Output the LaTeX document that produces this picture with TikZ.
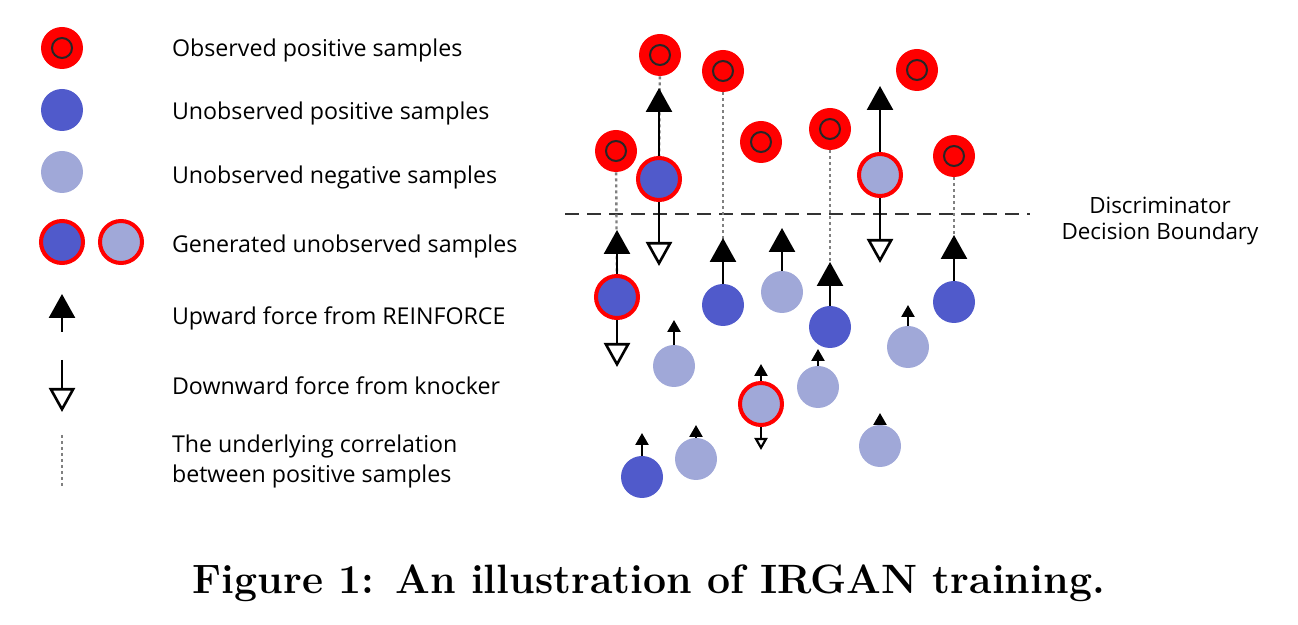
\documentclass[tikz,border=0pt]{standalone}
\usepackage{fontspec}
\newfontfamily\labelfont{Open Sans}
\usepackage{tikz}
\usetikzlibrary{arrows.meta,positioning}
\definecolor{obsred}{HTML}{FF0000}
\definecolor{posblue}{HTML}{505ACB}
\definecolor{negblue}{HTML}{A0A8D8}
\begin{document}
\begin{tikzpicture}[
  x=0.5pt, y=-0.5pt,
  obs/.style={
    circle,
    fill=obsred,
    minimum size=21pt,
    inner sep=0pt,
    path picture={\draw[line width=1pt, black!85] (path picture bounding box.center) circle (5pt);}
  },
  upos/.style={circle, fill=posblue, minimum size=21pt, inner sep=0pt},
  uneg/.style={circle, fill=negblue, minimum size=21pt, inner sep=0pt},
  genpos/.style={circle, fill=posblue, draw=obsred, line width=2pt, minimum size=21pt, inner sep=0pt},
  genneg/.style={circle, fill=negblue, draw=obsred, line width=2pt, minimum size=21pt, inner sep=0pt},
  legend/.style={anchor=west, font=\labelfont\fontsize{11.6}{15}\selectfont},
  up/.style={-{Triangle[length=12pt,width=13pt]}, line width=1.3pt},
  down/.style={-{Triangle[open,length=12pt,width=13pt]}, line width=1.3pt},
  smallup/.style={-{Triangle[length=6pt,width=6.5pt]}, line width=1.2pt},
  smalldown/.style={-{Triangle[open,length=6pt,width=6.5pt]}, line width=1.1pt},
  corr/.style={gray, dash pattern=on 1.5pt off 1.5pt, line width=1.2pt}
]
\useasboundingbox (0,0) rectangle (1298,625);

% legend
\node[obs] (lobs) at (62,48) {};
\node[upos] (lpos) at (62,110) {};
\node[uneg] (lneg) at (62,172) {};
\node[genpos] (lgenpos) at (62,242) {};
\node[genneg] (lgenneg) at (121,242) {};
\coordinate (lupa) at (62,332);
\coordinate (lupb) at (62,294);
\coordinate (ldna) at (62,360);
\coordinate (ldnb) at (62,412);
\coordinate (lcora) at (62,435);
\coordinate (lcorb) at (62,488);
\draw[up] (lupa) -- (lupb);
\draw[down] (ldna) -- (ldnb);
\draw[corr] (lcora) -- (lcorb);
\node[legend] (tobs) at (165,50) {Observed positive samples};
\node[legend] (tpos) at (165,113) {Unobserved positive samples};
\node[legend] (tneg) at (165,177) {Unobserved negative samples};
\node[legend] (tgen) at (165,246) {Generated unobserved samples};
\node[legend] (tup) at (165,318) {Upward force from REINFORCE};
\node[legend] (tdn) at (165,386) {Downward force from knocker};
\node[legend, align=left] (tcor) at (165,461) {The underlying correlation\\between positive samples};

% decision boundary
\coordinate (bl) at (565,214);
\coordinate (br) at (1030,214);
\draw[dash pattern=on 7pt off 4pt, line width=1pt, black!80] (bl) -- (br);
\node[font=\labelfont\fontsize{11.2}{13}\selectfont, align=center] (tdb) at (1160,221) {Discriminator\\Decision Boundary};

% observed positives
\node[obs] (o1) at (616,151) {};
\node[obs] (o2) at (660,55) {};
\node[obs] (o3) at (723,71) {};
\node[obs] (o4) at (761,142) {};
\node[obs] (o5) at (830,129) {};
\node[obs] (o6) at (917,70) {};
\node[obs] (o7) at (954,156) {};

% generated samples
\node[genpos] (g1) at (659,179) {};
\node[genneg] (g2) at (880,175) {};
\node[genpos] (g3) at (617,297) {};
\node[genneg] (g4) at (761,404) {};

% unobserved positives
\node[upos] (p1) at (723,305) {};
\node[upos] (p2) at (830,327) {};
\node[upos] (p3) at (954,302) {};
\node[upos] (p4) at (642,477) {};

% unobserved negatives
\node[uneg] (n1) at (782,292) {};
\node[uneg] (n2) at (674,366) {};
\node[uneg] (n3) at (908,347) {};
\node[uneg] (n4) at (818,387) {};
\node[uneg] (n5) at (696,459) {};
\node[uneg] (n6) at (880,446) {};

% correlations
\draw[corr] (o1) -- (g3);
\draw[corr] (o2) -- (g1);
\draw[corr] (o3) -- (p1);
\draw[corr] (o5) -- (p2);
\draw[corr] (o7) -- (p3);

% forces
\coordinate (t1) at (659,88);
\coordinate (b1) at (659,266);
\coordinate (t2) at (880,86);
\coordinate (b2) at (880,263);
\coordinate (t3) at (617,230);
\coordinate (b3) at (617,367);
\coordinate (t4) at (761,364);
\coordinate (b4) at (761,450);
\draw[up] (g1) -- (t1);
\draw[down] (g1) -- (b1);
\draw[up] (g2) -- (t2);
\draw[down] (g2) -- (b2);
\draw[up] (g3) -- (t3);
\draw[down] (g3) -- (b3);
\draw[smallup] (g4) -- (t4);
\draw[smalldown] (g4) -- (b4);
\coordinate (tp1) at (723,238);
\coordinate (tp2) at (830,262);
\coordinate (tp3) at (954,235);
\coordinate (tp4) at (642,433);
\draw[up] (p1) -- (tp1);
\draw[up] (p2) -- (tp2);
\draw[up] (p3) -- (tp3);
\draw[smallup] (p4) -- (tp4);
\coordinate (tn1) at (782,228);
\coordinate (tn2) at (674,320);
\coordinate (tn3) at (908,305);
\coordinate (tn4) at (818,349);
\coordinate (tn5) at (696,425);
\coordinate (tn6) at (880,413);
\draw[up] (n1) -- (tn1);
\draw[smallup] (n2) -- (tn2);
\draw[smallup] (n3) -- (tn3);
\draw[smallup] (n4) -- (tn4);
\draw[smallup] (n5) -- (tn5);
\draw[smallup] (n6) -- (tn6);

% caption
\node[font=\bfseries\fontsize{20.5}{24}\selectfont] (cap) at (649,583) {Figure 1: An illustration of IRGAN training.};
\end{tikzpicture}
\end{document}
